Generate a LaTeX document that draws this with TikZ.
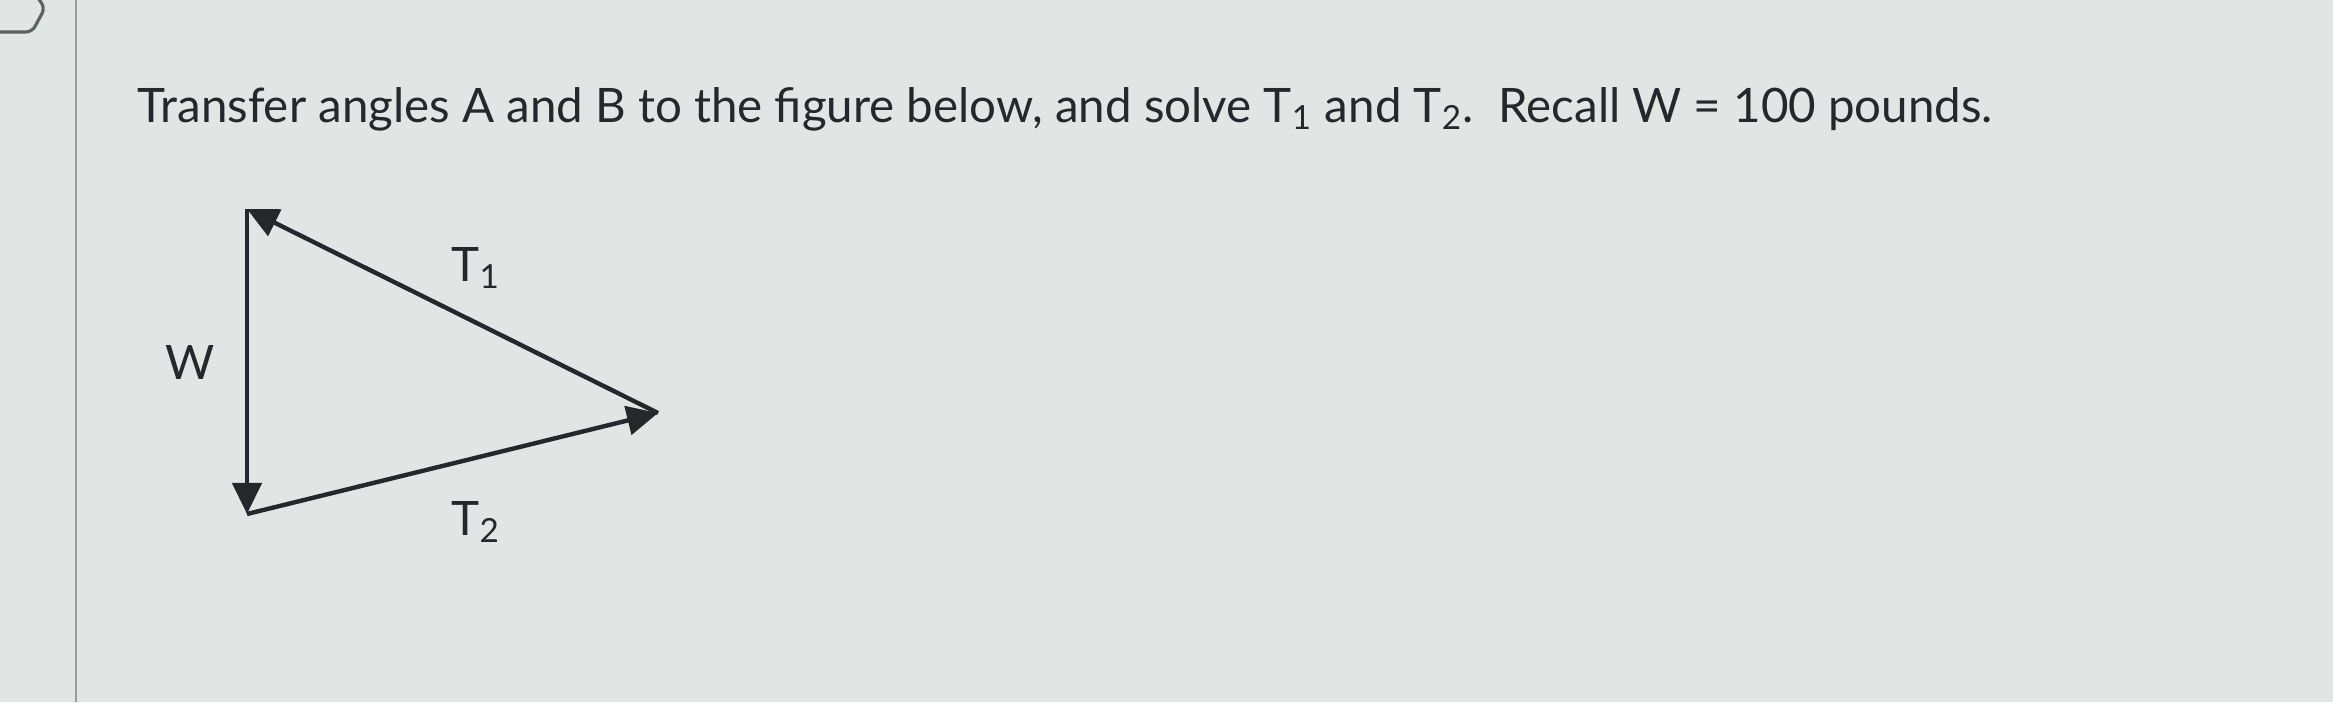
\documentclass[tikz,border=0pt]{standalone}
\usepackage{fontspec}
\setmainfont{Lato}
\usetikzlibrary{arrows.meta}
\definecolor{paper}{RGB}{225,229,227}
\definecolor{ink}{RGB}{36,40,42}
\definecolor{rule}{RGB}{150,156,156}
\begin{document}
\begin{tikzpicture}[x=0.01cm,y=-0.01cm]
\def\fs{13.5}
\tikzset{lbl/.style={text=ink,inner sep=0pt,font=\fontsize{\fs}{16}\selectfont},
	vec/.style={draw=ink,line width=1.25pt,-{Triangle[length=0.31cm,width=0.29cm]}}}
\fill[paper](0,0)rectangle(2333,702);
\useasboundingbox(0,0)rectangle(2333,702);
%% page edge
\draw[rule,line width=0.6pt](76,0)--(76,702);
\draw[rule!50!ink,line width=0.9pt,rounded corners=0.6mm](0,32)--(32,32)--(45,8)--(38,-2);
%% question
\path(137,122)node[lbl,anchor=base west](Q){Transfer angles A and B to the figure below, and solve T\textsubscript{1} and T\textsubscript{2}.\ \ Recall W = 100 pounds.};
%% triangle of forces
\path(247,209)coordinate(A)(247,514)coordinate(B)(658,413)coordinate(C);
\foreach \x/\y in {A/B,B/C,C/A}
\draw[vec](\x)--(\y);
\path(190,362)node[lbl](W){W}(476,268)node[lbl](T1){T\textsubscript{1}}(476,522)node[lbl](T2){T\textsubscript{2}};
\end{tikzpicture}
\end{document}
